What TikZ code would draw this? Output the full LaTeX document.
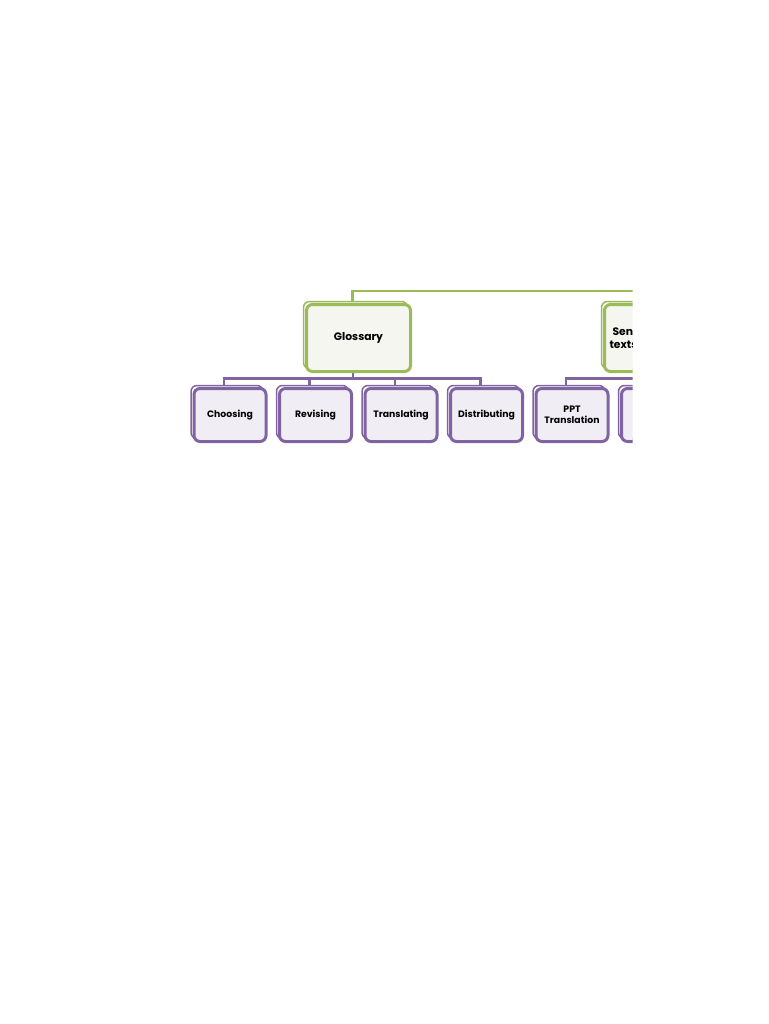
\documentclass[tikz,border=0pt]{standalone}
\usepackage{fontspec}
\setmainfont{Poppins}
\usetikzlibrary{shadows,backgrounds}
\definecolor{olivegreen}{HTML}{9BBB59}
\definecolor{olivefill}{HTML}{F4F6EF}
\definecolor{lilac}{HTML}{8064A2}
\definecolor{lilacfill}{HTML}{F0EEF4}

\begin{document}
\begin{tikzpicture}[x=1pt,y=1pt,
    topbox/.style={draw=olivegreen, line width=3pt, fill=olivefill, rounded corners=6pt,
      minimum width=104pt, minimum height=67pt, font=\bfseries\fontsize{10.8}{12.5}\selectfont,
      general shadow={shadow xshift=-3pt, shadow yshift=3pt, draw=olivegreen, line width=1.5pt, fill=white}},
    subbox/.style={draw=lilac, line width=3pt, fill=lilacfill, rounded corners=6pt,
      minimum width=72pt, minimum height=53pt, font=\bfseries\fontsize{9.3}{11}\selectfont,
      general shadow={shadow xshift=-3pt, shadow yshift=3pt, draw=lilac, line width=1.5pt, fill=white}},
    gline/.style={draw=olivegreen, line width=2.8pt},
    pline/.style={draw=lilac, line width=2.8pt}]

    % page and cut-off edge
    \useasboundingbox (0,0) rectangle (768,-1024);
    \clip (0,0) rectangle (632.5,-1024);

    % second level
    \node[topbox] (glossary) at (358.5,-338) {Glossary};
    \node[topbox, text width=94pt, align=left] (sending) at (656.5,-338) {\hspace*{3pt}Sen\\texts};

    % third level
    \node[subbox] (choosing) at (230,-415) {Choosing};
    \node[subbox] (revising) at (315.5,-415) {Revising};
    \node[subbox] (translating) at (401,-415) {Translating};
    \node[subbox] (distributing) at (486.5,-415) {Distributing};
    \node[subbox, align=center] (ppt) at (572,-415) {PPT\\Translation};
    \node[subbox] (nextsub) at (657.5,-415) {};

    % connectors
    \begin{scope}[on background layer]
      \clip (0,0) rectangle (632.5,-1024);
      \draw[gline] ([xshift=-6pt]glossary.north) -- ++(0,12) -| ([xshift=-6pt]sending.north);
      \draw[pline] ([xshift=-5.5pt]glossary.south) -- ++(0,-5.5) coordinate (gbus);
      \foreach \c in {choosing,revising,translating,distributing}
        \draw[pline] (gbus) -| ([xshift=-6pt]\c.north);
      \draw[pline] ([xshift=-6pt]sending.south) -- ++(0,-5.5) coordinate (sbus);
      \foreach \c in {ppt,nextsub}
        \draw[pline] (sbus) -| ([xshift=-6pt]\c.north);
    \end{scope}

\end{tikzpicture}
\end{document}
